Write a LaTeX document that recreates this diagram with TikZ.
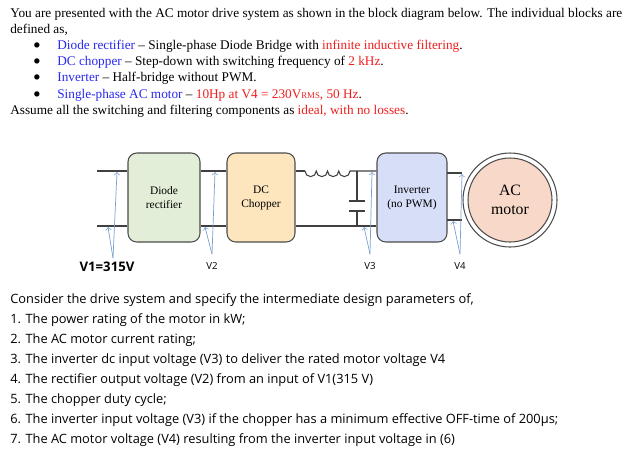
\documentclass[tikz,border=0pt]{standalone}
\usepackage{fontspec}
\setmainfont{Liberation Serif}
\newfontfamily\osans{Open Sans}
\usetikzlibrary{decorations.pathmorphing}
\definecolor{txtblue}{RGB}{40,40,240}
\definecolor{txtred}{RGB}{240,30,30}
\definecolor{wireblue}{RGB}{120,160,210}
\definecolor{diodefill}{RGB}{226,238,215}
\definecolor{chopfill}{RGB}{253,230,190}
\definecolor{invfill}{RGB}{214,222,248}
\definecolor{motorfill}{RGB}{248,216,200}
\tikzset{
  para/.style={anchor=west,inner sep=0pt,font=\fontsize{7.55}{9}\selectfont},
  qline/.style={anchor=west,inner sep=0pt,font=\osans\fontsize{7.3}{9}\selectfont},
  block/.style={draw=black!70,semithick,rounded corners=5pt,align=center,font=\fontsize{6.5}{8}\selectfont},
  volt/.style={wireblue,thin},
  vlab/.style={inner sep=0pt,font=\osans\fontsize{5.5}{6}\selectfont}
}
\begin{document}
\begin{tikzpicture}[x=0.02cm,y=-0.02cm]
\useasboundingbox (0,0) rectangle (631,458);
% statement
\node[para] (l1) at (10,14) {You are presented with the AC motor drive system as shown in the block diagram below. The individual blocks are};
\node[para] (l2) at (10,30) {defined as,};
\foreach \yy in {46,62,78,95} \node[inner sep=0pt,font=\fontsize{7.4}{9}\selectfont] (b\yy) at (37,\yy) {$\bullet$};
\node[para] (i1) at (57,46) {\textcolor{txtblue}{Diode rectifier} -- Single-phase Diode Bridge with \textcolor{txtred}{infinite inductive filtering}.};
\node[para] (i2) at (57,62) {\textcolor{txtblue}{DC chopper} -- Step-down with switching frequency of \textcolor{txtred}{2 kHz}.};
\node[para] (i3) at (57,78) {\textcolor{txtblue}{Inverter} -- Half-bridge without PWM.};
\node[para] (i4) at (57,95) {\textcolor{txtblue}{Single-phase AC motor} -- \textcolor{txtred}{10Hp at V4 = 230V{\fontsize{5}{6}\selectfont RMS}, 50 Hz}.};
\node[para] (l3) at (10,111) {Assume all the switching and filtering components as \textcolor{txtred}{ideal, with no losses}.};

% blocks
\node[block,fill=diodefill,minimum width=72*0.02cm,minimum height=89*0.02cm] (rect) at (164,197.5) {Diode\\rectifier};
\node[block,fill=chopfill,minimum width=68*0.02cm,minimum height=89*0.02cm] (chop) at (261,197.5) {DC\\Chopper};
\node[block,fill=invfill,minimum width=70*0.02cm,minimum height=89*0.02cm] (inv) at (412,197.5) {Inverter\\(no PWM)};
\node[circle,draw=black!70,semithick,minimum size=94*0.02cm] (motc) at (510,200) {};
\node[circle,draw=black!70,semithick,fill=motorfill,minimum size=84*0.02cm,align=center,font=\fontsize{9}{10.5}\selectfont] (mot) at (510,200) {AC\\motor};

% wires
\coordinate (in1) at (97,171);
\coordinate (in2) at (97,226);
\draw[semithick,black!75] (in1) -- (rect.west|-in1) (in2) -- (rect.west|-in2);
\draw[semithick,black!75] (rect.east|-in1) -- (chop.west|-in1) (rect.east|-in2) -- (chop.west|-in2);
\coordinate (la) at (305,171);
\coordinate (lb) at (350,171);
\coordinate (ct) at (357,171);
\coordinate (cb) at (357,226);
\draw[semithick,black!75] (chop.east|-in1) -- (la);
\draw[semithick,black!75] (la) \foreach \k in {0,1,2,3} {arc[start angle=180,end angle=0,radius=5.625]} -- (lb) -- (inv.west|-in1);
\draw[semithick,black!75] (chop.east|-in2) -- (inv.west|-in2);
\draw[semithick,black!75] (ct) -- (357,201) (357,211) -- (cb);
\draw[semithick,black!75] (349,201) -- (365,201) (349,211) -- (365,211);
\draw[semithick,black!75] (447,173) -- (motc.west|-{(0,173)});
\draw[semithick,black!75] (447,220) -- (motc.west|-{(0,220)});

% voltage pointers
\node[vlab,font=\osans\bfseries\fontsize{7.5}{9}\selectfont] (v1) at (107,267) {V1=315V};
\node[vlab] (v2) at (212,266) {V2};
\node[vlab] (v3) at (370,266) {V3};
\node[vlab] (v4) at (460,266) {V4};
\draw[volt,->] (113,258) -- (117,172);
\draw[volt,->] (113,258) -- (108,227);
\draw[volt,->] (212,254) -- (215,172);
\draw[volt,->] (212,254) -- (205,227);
\draw[volt,->] (370,254) -- (372,172);
\draw[volt,->] (370,254) -- (364,227);
\draw[volt,->] (460,254) -- (462,174);
\draw[volt,->] (460,254) -- (453,221);

% questions
\node[qline] (q0) at (10,300) {Consider the drive system and specify the intermediate design parameters of,};
\node[qline] (q1) at (10,320) {1. The power rating of the motor in kW;};
\node[qline] (q2) at (10,340) {2. The AC motor current rating;};
\node[qline] (q3) at (10,360) {3. The inverter dc input voltage (V3) to deliver the rated motor voltage V4};
\node[qline] (q4) at (10,380) {4. The rectifier output voltage (V2) from an input of V1(315 V)};
\node[qline] (q5) at (10,400) {5. The chopper duty cycle;};
\node[qline] (q6) at (10,420) {6. The inverter input voltage (V3) if the chopper has a minimum effective OFF-time of 200µs;};
\node[qline] (q7) at (10,440) {7. The AC motor voltage (V4) resulting from the inverter input voltage in (6)};
\end{tikzpicture}
\end{document}
